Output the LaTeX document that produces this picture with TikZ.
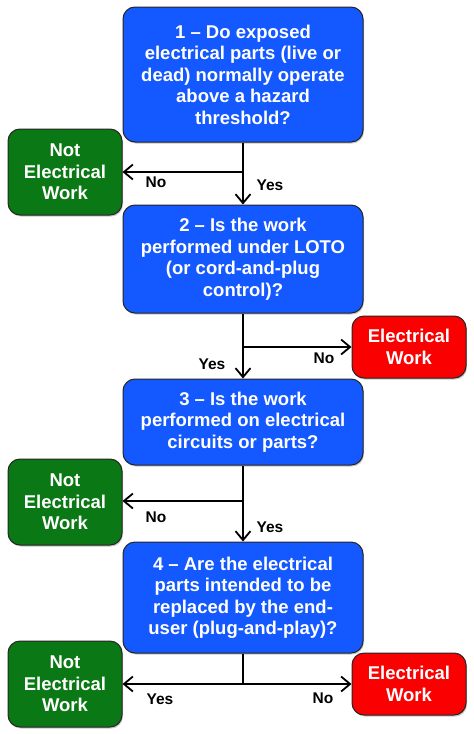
\documentclass[tikz,border=0pt]{standalone}
\usepackage{fontspec}
\setmainfont{Liberation Sans}
\usepackage{xcolor}
\usetikzlibrary{arrows.meta,shadows}

\definecolor{qblue}{RGB}{20,88,255}
\definecolor{okgreen}{RGB}{10,120,20}
\definecolor{hotred}{RGB}{250,0,0}

\begin{document}
\begin{tikzpicture}[x=1pt, y=-1pt,
    box/.style={draw=black!85, line width=1pt, rounded corners=12pt, text=white,
        align=center, inner sep=0pt, font=\fontsize{18.5}{21.5}\selectfont\bfseries,
        drop shadow={shadow xshift=1pt, shadow yshift=-1.5pt, opacity=0.45}},
    question/.style={box, fill=qblue, minimum width=240pt},
    notwork/.style={box, fill=okgreen, minimum width=114pt, minimum height=86pt},
    work/.style={box, fill=hotred, minimum width=114pt, minimum height=62pt},
    answer/.style={font=\fontsize{15.5}{18}\selectfont\bfseries},
    flow/.style={line width=1.8pt, -{Straight Barb[length=9pt,width=15pt]}},
    link/.style={line width=1.8pt}]
    \useasboundingbox (0,0) rectangle (474,734);

    % questions
    \node[question, minimum height=135pt] (q1) at (243, 74.5)
        {1 -- Do exposed\\electrical parts (live or\\dead) normally operate\\above a hazard\\threshold?};
    \node[question, minimum height=108pt] (q2) at (243, 259)
        {2 -- Is the work\\performed under LOTO\\(or cord-and-plug\\control)?};
    \node[question, minimum height=86pt] (q3) at (243, 422)
        {3 -- Is the work\\performed on electrical\\circuits or parts?};
    \node[question, minimum height=111pt] (q4) at (243, 597.5)
        {4 -- Are the electrical\\parts intended to be\\replaced by the end-\\user (plug-and-play)?};

    % outcomes
    \node[notwork] (ne1) at (65, 172) {Not\\Electrical\\Work};
    \node[work] (ew1) at (409, 347) {Electrical\\Work};
    \node[notwork] (ne2) at (65, 502) {Not\\Electrical\\Work};
    \node[notwork] (ne3) at (65, 684) {Not\\Electrical\\Work};
    \node[work] (ew2) at (409, 684) {Electrical\\Work};

    % junctions
    \coordinate (j1) at (243, 172);
    \coordinate (j2) at (243, 347);
    \coordinate (j3) at (243, 501);
    \coordinate (j4) at (243, 684);

    \draw[flow] (q1.south) -- (q2.north);
    \draw[flow] (j1) -- (ne1.east |- j1);
    \node[answer] (no1) at (156, 182) {No};
    \node[answer] (yes1) at (270, 185) {Yes};

    \draw[flow] (q2.south) -- (q3.north);
    \draw[flow] (j2) -- (ew1.west);
    \node[answer] (no2) at (324, 358) {No};
    \node[answer] (yes2) at (212, 364) {Yes};

    \draw[flow] (q3.south) -- (q4.north);
    \draw[flow] (j3) -- (ne2.east |- j3);
    \node[answer] (no3) at (156, 517) {No};
    \node[answer] (yes3) at (270, 527) {Yes};

    \draw[link] (q4.south) -- (j4);
    \draw[flow] (j4) -- (ne3.east);
    \draw[flow] (j4) -- (ew2.west);
    \node[answer] (yes4) at (160, 699) {Yes};
    \node[answer] (no4) at (323, 698) {No};
\end{tikzpicture}
\end{document}
